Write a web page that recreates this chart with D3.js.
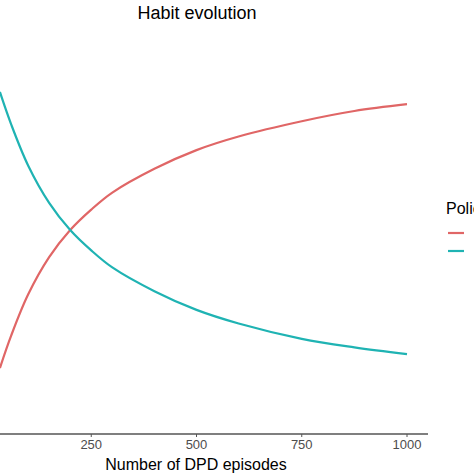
<!DOCTYPE html>
<html>
<head>
<meta charset="utf-8">
<script src="https://cdn.jsdelivr.net/npm/d3@7"></script>
<style>
  body { margin: 0; background: #fff; }
  text { font-family: "Liberation Sans", Arial, sans-serif; }
</style>
</head>
<body>
<svg id="chart" width="474" height="474"></svg>
<script>
const episodes = [33, 60, 100, 150, 200, 250, 300, 400, 500, 600, 750, 875, 1000];
const habitA = [0.094, 0.19, 0.31, 0.42, 0.5, 0.56, 0.61, 0.68, 0.735, 0.775, 0.82, 0.85, 0.87];
const habitB = [0.906, 0.81, 0.69, 0.58, 0.5, 0.44, 0.39, 0.32, 0.265, 0.225, 0.18, 0.155, 0.135];
const xTicks = [250, 500, 750, 1000];
const colours = ["#e06666", "#1fb3b3"];

const svg = d3.select("#chart");
const x = d3.scaleLinear().domain([0, 1000]).range([-14, 407]);
const y = d3.scaleLinear().domain([0, 1]).range([400, 60]);

svg.append("text")
  .attr("x", 197).attr("y", 19)
  .attr("text-anchor", "middle")
  .attr("font-size", 18)
  .text("Habit evolution");

const axis = svg.append("g").attr("transform", "translate(0,434)");
axis.append("line")
  .attr("x1", 0).attr("x2", 428)
  .attr("stroke", "#555").attr("stroke-width", 1.4);
xTicks.forEach(t => {
  axis.append("line")
    .attr("x1", x(t)).attr("x2", x(t)).attr("y1", 0).attr("y2", 3)
    .attr("stroke", "#555");
  axis.append("text")
    .attr("x", x(t)).attr("y", 15)
    .attr("text-anchor", "middle")
    .attr("font-size", 13).attr("fill", "#4d4d4d")
    .text(t);
});

svg.append("text")
  .attr("x", 196).attr("y", 470)
  .attr("text-anchor", "middle")
  .attr("font-size", 16)
  .text("Number of DPD episodes");

const line = vals => d3.line()
  .x((d, i) => x(episodes[i]))
  .y(d => y(d))
  .curve(d3.curveCatmullRom)(vals);

[habitA, habitB].forEach((vals, i) => {
  svg.append("path")
    .attr("d", line(vals))
    .attr("fill", "none")
    .attr("stroke", colours[i])
    .attr("stroke-width", 2.2);
});

svg.append("text")
  .attr("x", 446).attr("y", 214)
  .attr("font-size", 16)
  .text("Policy");
colours.forEach((c, i) => {
  svg.append("line")
    .attr("x1", 448).attr("x2", 464)
    .attr("y1", 233 + i * 18).attr("y2", 233 + i * 18)
    .attr("stroke", c).attr("stroke-width", 2.2);
});
</script>
</body>
</html>
